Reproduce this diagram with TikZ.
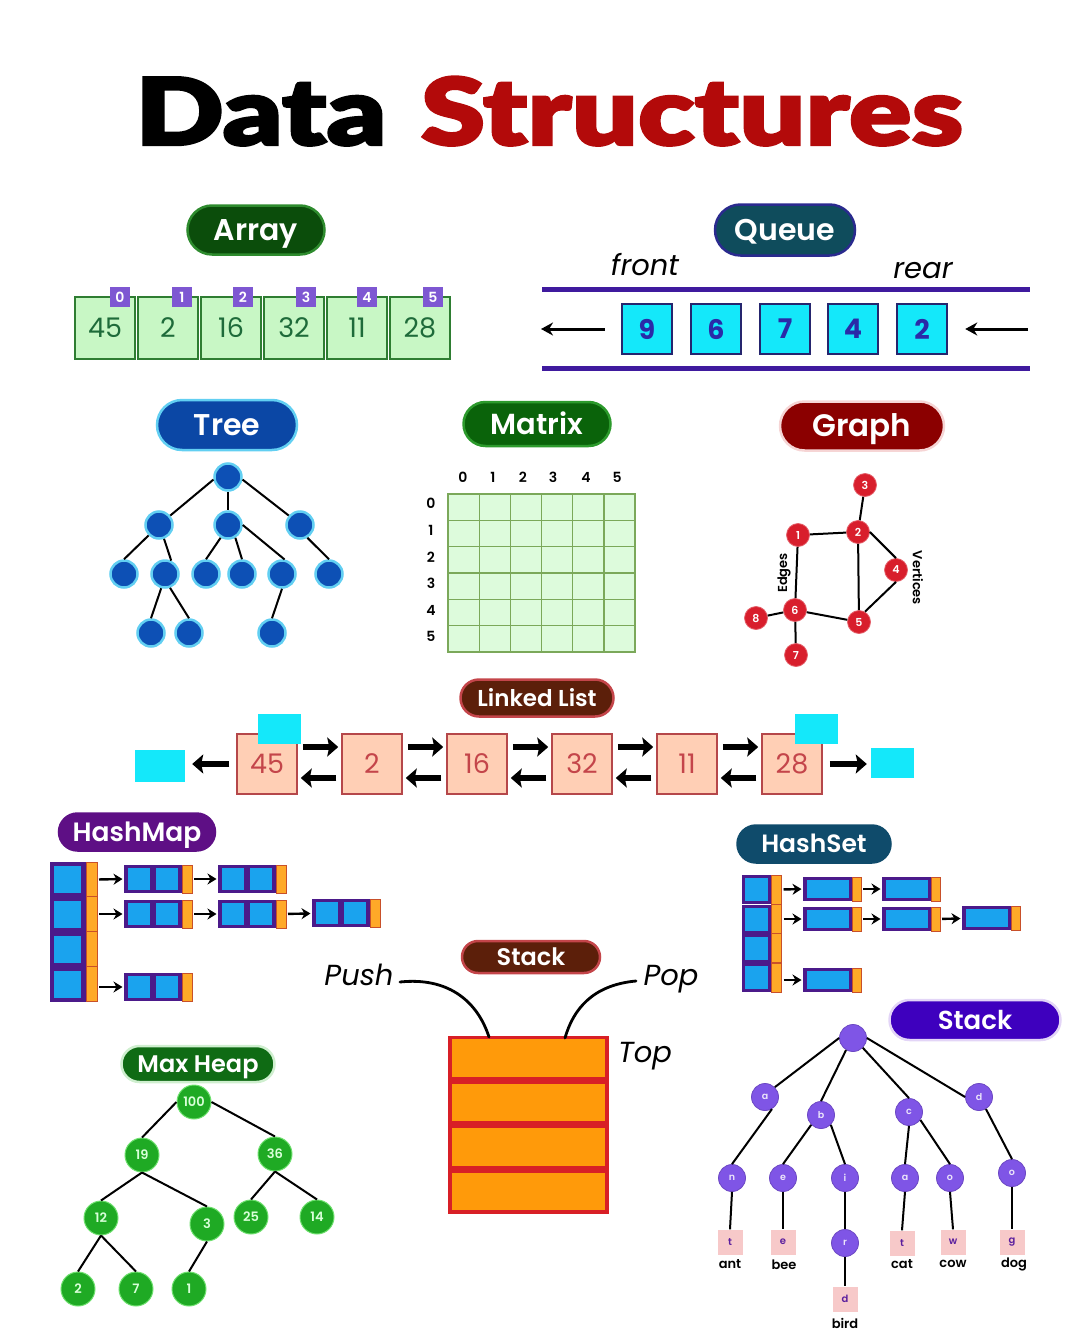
\documentclass[tikz,border=0pt]{standalone}
\usepackage{fontspec}
\setmainfont{Poppins}
\newfontfamily\semifont{Poppins SemiBold}
\newfontfamily\titlefont[FakeStretch=1.25,FakeBold=2.5]{Lato Black}
\usetikzlibrary{arrows.meta,shapes.misc}
\newcommand{\fsize}[1]{\fontsize{#1pt}{#1pt}\selectfont}
\definecolor{titlered}{HTML}{B30A0A}
\definecolor{arrfill}{HTML}{C8F7C5}
\definecolor{arrline}{HTML}{2E7D32}
\definecolor{arrtext}{HTML}{1E6B3A}
\definecolor{idxfill}{HTML}{7E57D2}
\definecolor{quefill}{HTML}{14E8FA}
\definecolor{queline}{HTML}{25256E}
\definecolor{quetext}{HTML}{2A2AA8}
\definecolor{querail}{HTML}{3F1A9E}
\definecolor{treefill}{HTML}{0D50B5}
\definecolor{treeline}{HTML}{62CFF2}
\definecolor{matfill}{HTML}{DDFBDC}
\definecolor{matline}{HTML}{7BA85A}
\definecolor{grafill}{HTML}{D81E2C}
\definecolor{llfill}{HTML}{FFCFB5}
\definecolor{llline}{HTML}{B5474A}
\definecolor{lltext}{HTML}{C4454A}
\definecolor{hashbody}{HTML}{4B1A8A}
\definecolor{hashblue}{HTML}{1AA3EE}
\definecolor{hashtail}{HTML}{FFA928}
\definecolor{hashedge}{HTML}{C8502A}
\definecolor{stackfill}{HTML}{FF9A0A}
\definecolor{stackline}{HTML}{D81F26}
\definecolor{heapfill}{HTML}{1FAA24}
\definecolor{heapline}{HTML}{6FE06F}
\definecolor{triefill}{HTML}{7F55E6}
\definecolor{leaffill}{HTML}{F7C9C9}
\definecolor{leaftext}{HTML}{5A1E9E}
\definecolor{pillarray}{HTML}{0B4D0B}
\definecolor{pillarrayline}{HTML}{2E8B2E}
\definecolor{pillqueue}{HTML}{0F4C5C}
\definecolor{pillqueueline}{HTML}{2A2A8E}
\definecolor{pilltree}{HTML}{0B47A5}
\definecolor{pillmatrix}{HTML}{0A630A}
\definecolor{pillmatrixline}{HTML}{2C9A2C}
\definecolor{pillgraph}{HTML}{8B0000}
\definecolor{pillgraphline}{HTML}{F6D5D5}
\definecolor{pillbrown}{HTML}{5C1F0A}
\definecolor{pillmap}{HTML}{5E0F85}
\definecolor{pillset}{HTML}{0F4B6B}
\definecolor{pillheap}{HTML}{0F6B14}
\definecolor{pillheapline}{HTML}{CFEFCF}
\definecolor{pilltrie}{HTML}{3E00BE}
\definecolor{pilltrieline}{HTML}{E3D5F7}
\tikzset{
  pill/.style={rounded rectangle, draw, line width=2.5pt, text=white, inner sep=0pt},
  pillsize/.style={font=\semifont\fsize{#1}, text height=0.7*#1 pt, text depth=0pt},
  arrcell/.style={draw=arrline, fill=arrfill, line width=1.6pt, minimum width=60pt, minimum height=62pt, text=arrtext, font=\fsize{27}, inner sep=0pt},
  idxbox/.style={fill=idxfill, minimum size=20pt, text=white, font=\semifont\fsize{14}, inner sep=0pt},
  quebox/.style={draw=queline, fill=quefill, line width=2.5pt, minimum size=50pt, text=quetext, font=\bfseries\fsize{27}, inner sep=0pt},
  quearrow/.style={->, >={Stealth[length=12pt,width=13pt]}, line width=3pt},
  slanted/.style={font=\itshape\fsize{29}, inner sep=0pt, anchor=base},
  treenode/.style={circle, draw=treeline, fill=treefill, line width=2.5pt, minimum size=27pt, inner sep=0pt},
  edgeline/.style={line width=2pt},
  matcell/.style={draw=matline, fill=matfill, line width=1.3pt, minimum width=31.17pt, minimum height=26.33pt, inner sep=0pt},
  matlabel/.style={font=\semifont\fsize{14}, inner sep=0pt},
  granode/.style={circle, draw=grafill!70, fill=grafill, line width=0.8pt, minimum size=23pt, text=white, font=\semifont\fsize{11}, inner sep=0pt},
  gralabel/.style={font=\semifont\fsize{13}, inner sep=0pt},
  llbox/.style={draw=llline, fill=llfill, line width=1.5pt, minimum size=60pt, text=lltext, font=\fsize{27}, inner sep=0pt},
  cyanbox/.style={fill=quefill, inner sep=0pt},
  llarrow/.style={->, >={Stealth[length=11pt,width=19pt,inset=2pt]}, line width=5.5pt},
  bodybox/.style={fill=hashbody, inner sep=0pt, outer sep=0pt},
  bluebox/.style={fill=hashblue, inner sep=0pt, outer sep=0pt},
  tailbox/.style={draw=hashedge, fill=hashtail, line width=1pt, inner sep=0pt, outer sep=0pt},
  hasharrow/.style={->, >={Stealth[length=9pt,width=11pt]}, line width=2.4pt, shorten <=2pt, shorten >=1.5pt},
  stackbox/.style={draw=stackline, fill=stackfill, line width=3.2pt, minimum width=157pt, minimum height=41pt, inner sep=0pt},
  heapnode/.style={circle, draw=heapline, fill=heapfill, line width=1pt, minimum size=34pt, text=white!85!green, font=\semifont\fsize{13}, inner sep=0pt},
  trienode/.style={circle, draw=triefill!85!black, fill=triefill, line width=0.8pt, minimum size=27pt, text=white!85!triefill, font=\semifont\fsize{9.5}, inner sep=0pt},
  leafbox/.style={fill=leaffill, minimum size=25pt, text=leaftext, font=\semifont\fsize{10}, inner sep=0pt},
  wordlabel/.style={font=\semifont\fsize{13}, inner sep=0pt},
}
% one chain entry of the hash map: two squares and a tail
\newcommand{\mapentry}[3]{
  \node[bodybox, anchor=west, minimum width=58pt, minimum height=28pt] (#1) at (#2,#3) {};
  \node[bluebox, minimum size=22pt] (#1a) at ([xshift=15pt]#1.west) {};
  \node[bluebox, minimum size=22pt] (#1b) at ([xshift=43pt]#1.west) {};
  \node[tailbox, anchor=west, minimum width=10pt, minimum height=28pt] (#1t) at (#1.east) {};
}
% one chain entry of the hash set: one long box and a tail
\newcommand{\setentry}[3]{
  \node[bodybox, anchor=west, minimum width=49pt, minimum height=24pt] (#1) at (#2,#3) {};
  \node[bluebox, minimum width=42pt, minimum height=18pt] (#1a) at (#1) {};
  \node[tailbox, anchor=west, minimum width=9pt, minimum height=24pt] (#1t) at (#1.east) {};
}
\begin{document}
\begin{tikzpicture}[x=1pt,y=-1pt]
  \useasboundingbox (0,0) rectangle (1080,1338);

  % Title
  \node[anchor=base, inner sep=0pt, font=\titlefont\fsize{93}] (titleleft) at (261,145) {Data};
  \node[anchor=base, inner sep=0pt, font=\titlefont\fsize{93}, text=titlered] (titleright) at (692,145) {Structures};

  % Array
  \node[pill, pillsize=30, fill=pillarray, draw=pillarrayline, minimum width=137pt, minimum height=49pt] (arraypill) at (256,230) {Array};
  \foreach \x/\v [count=\i] in {105/45, 168/2, 231/16, 294/32, 357/11, 420/28} {
    \node[arrcell] (arr\i) at (\x,328) {\v};
  }
  \foreach \n [count=\i from 0] in {120, 182, 243, 306, 367, 433} {
    \node[idxbox] (idx\i) at (\n,297) {\i};
  }

  % Queue
  \node[pill, pillsize=30, fill=pillqueue, draw=pillqueueline, minimum width=140pt, minimum height=51pt] (queuepill) at (785,230) {Queue};
  \node[slanted] (front) at (645,275) {front};
  \node[slanted] (rear) at (923,278) {rear};
  \coordinate (railaw) at (542,289);
  \coordinate (railae) at (1030,289);
  \coordinate (railbw) at (542,368);
  \coordinate (railbe) at (1030,368);
  \draw[querail, line width=5pt] (railaw) -- (railae);
  \draw[querail, line width=5pt] (railbw) -- (railbe);
  \foreach \x/\v [count=\i] in {647/9, 716/6, 785/7, 853/4, 922/2} {
    \node[quebox] (que\i) at (\x,329) {\v};
  }
  \coordinate (queout) at (541,329);
  \coordinate (quein) at (1028,329);
  \draw[quearrow, shorten <=16pt] (que1) -- (queout);
  \draw[quearrow, shorten >=17pt] (quein) -- (que5);

  % Tree
  \node[pill, pillsize=30, fill=pilltree, draw=treeline, minimum width=140pt, minimum height=50pt] (treepill) at (227,425) {Tree};
  \foreach \n/\x/\y in {r/228/477, a/159/525, b/228/525, c/300/525, d/124/574, e/165/574, f/206/574, g/242/574, h/282/574, k/329/574, l/151/633, m/189/633, o/272/633} {
    \node[treenode] (tr\n) at (\x,\y) {};
  }
  \foreach \a/\p/\b/\q in {r/190/a/40, r/-90/b/90, r/-10/c/140, a/225/d/90, a/-70/e/65, b/240/f/90, b/-60/g/90, b/0/h/80, c/-60/k/90, e/-105/l/90, e/-70/m/90, h/-90/o/90} {
    \draw[edgeline] (tr\a.\p) -- (tr\b.\q);
  }

  % Matrix
  \node[pill, pillsize=29, fill=pillmatrix, draw=pillmatrixline, minimum width=147pt, minimum height=44pt] (matrixpill) at (537,424) {Matrix};
  \foreach \i in {0,...,5} {
    \foreach \j in {0,...,5} {
      \node[matcell] (mat\i\j) at ({448+31.17*(\i+0.5)},{494+26.33*(\j+0.5)}) {};
    }
  }
  \foreach \x [count=\i from 0] in {463,493,523,553,586,617} {
    \node[matlabel] (matc\i) at (\x,477) {\i};
  }
  \foreach \y [count=\i from 0] in {503,530,557,583,610,636} {
    \node[matlabel] (matr\i) at (431,\y) {\i};
  }

  % Graph
  \node[pill, pillsize=31, fill=pillgraph, draw=pillgraphline, minimum width=164pt, minimum height=49pt] (graphpill) at (862,426) {Graph};
  \foreach \x/\y [count=\i] in {798/535, 858/532, 865/485, 896/570, 859/622, 795/610, 796/655, 756/618} {
    \node[granode] (gr\i) at (\x,\y) {\i};
  }
  \draw[edgeline] (gr3) -- (gr2);
  \draw[edgeline] (gr1) -- (gr2);
  \draw[edgeline] (gr2.east) -- (gr4.north);
  \draw[edgeline] (gr2) -- (gr5);
  \draw[edgeline] (gr4.south) -- (gr5.60);
  \draw[edgeline] (gr1) -- (gr6);
  \draw[edgeline] (gr6) -- (gr5);
  \draw[edgeline] (gr6) -- (gr8);
  \draw[edgeline] (gr6) -- (gr7);
  \node[gralabel, rotate=90] (edges) at (784,573) {Edges};
  \node[gralabel, rotate=-90] (vertices) at (918,578) {Vertices};

  % Linked list
  \node[pill, pillsize=23, fill=pillbrown, draw=lltext, minimum width=153pt, minimum height=37pt] (listpill) at (537,698) {Linked List};
  \foreach \x/\v [count=\i] in {267/45, 372/2, 477/16, 582/32, 687/11, 792/28} {
    \node[llbox] (ll\i) at (\x,764) {\v};
  }
  \node[cyanbox, minimum width=43pt, minimum height=30pt] (lltopa) at (279.5,729) {};
  \node[cyanbox, minimum width=43pt, minimum height=30pt] (lltopb) at (816.5,729) {};
  \node[cyanbox, minimum width=50pt, minimum height=32pt] (llleft) at (160,766) {};
  \node[cyanbox, minimum width=43pt, minimum height=30pt] (llright) at (892.5,763) {};
  \foreach \a/\b in {1/2, 2/3, 3/4, 4/5, 5/6} {
    \draw[llarrow, shorten <=5pt, shorten >=3pt] ([yshift=17pt]ll\a.east) -- ([yshift=17pt]ll\b.west);
    \draw[llarrow, shorten <=5pt, shorten >=3pt] ([yshift=-14pt]ll\b.west) -- ([yshift=-14pt]ll\a.east);
  }
  \draw[llarrow, shorten <=7pt, shorten >=7pt] (ll1.west) -- (ll1.west -| llleft.east);
  \draw[llarrow, shorten <=7pt, shorten >=4pt] (ll6.east) -- (ll6.east -| llright.west);

  % HashMap
  \node[pill, pillsize=26.5, fill=pillmap, draw=pillmap, minimum width=156pt, minimum height=37pt] (mappill) at (137,832) {HashMap};
  \foreach \y [count=\i] in {879.5, 914, 949, 984} {
    \node[bodybox, minimum width=36pt, minimum height=35pt] (mapb\i) at (68,\y) {};
    \node[bluebox, minimum size=27pt] (mapc\i) at (67.5,\y) {};
    \node[tailbox, anchor=west, minimum width=11pt, minimum height=34.5pt] (mapt\i) at (mapb\i.east) {};
  }
  \mapentry{mapa}{124}{879}
  \mapentry{mapd}{218}{879}
  \mapentry{mape}{124}{914}
  \mapentry{mapf}{218}{914}
  \mapentry{mapg}{312}{913}
  \mapentry{maph}{124}{987}
  \draw[hasharrow] (mapt1.east) -- (mapa.west);
  \draw[hasharrow] (mapat) -- (mapd);
  \draw[hasharrow] (mapt2.east) -- (mape.west);
  \draw[hasharrow] (mapet) -- (mapf);
  \draw[hasharrow] (mapft) -- (mapg);
  \draw[hasharrow] (mapt4.east |- maph) -- (maph.west);

  % HashSet
  \node[pill, pillsize=25, fill=pillset, draw=pillset, minimum width=153pt, minimum height=37pt] (setpill) at (814,844) {HashSet};
  \foreach \y [count=\i] in {889.5, 919, 948, 977.5} {
    \node[bodybox, minimum width=30pt, minimum height=29pt] (setb\i) at (756.5,\y) {};
    \node[bluebox, minimum width=23pt, minimum height=23pt] (setc\i) at (756,\y) {};
    \node[tailbox, anchor=west, minimum width=10pt, minimum height=29pt] (sett\i) at (setb\i.east) {};
  }
  \setentry{seta}{803}{889}
  \setentry{setd}{882}{889}
  \setentry{sete}{803}{919}
  \setentry{setf}{882}{919}
  \setentry{setg}{962}{918}
  \setentry{seth}{803}{980}
  \draw[hasharrow] (sett1.east) -- (seta.west);
  \draw[hasharrow] (setat) -- (setd);
  \draw[hasharrow] (sett2.east) -- (sete.west);
  \draw[hasharrow] (setet) -- (setf);
  \draw[hasharrow] (setft) -- (setg);
  \draw[hasharrow] (sett4.east |- seth) -- (seth.west);

  % Stack
  \node[pill, pillsize=24, fill=pillbrown, draw=lltext, minimum width=138pt, minimum height=32pt] (stackpill) at (531,957) {Stack};
  \foreach \y [count=\i] in {1058, 1102.5, 1147, 1191.5} {
    \node[stackbox] (st\i) at (528.5,\y) {};
  }
  \node[slanted] (push) at (359,985) {Push};
  \node[slanted] (pop) at (671,985) {Pop};
  \node[slanted] (top) at (645,1062) {Top};
  \coordinate (pushstart) at (400,982);
  \coordinate (pushend) at (489,1037);
  \coordinate (popstart) at (636,981);
  \coordinate (popend) at (565,1038);
  \draw[line width=2.8pt, line cap=round] (pushstart) .. controls (447,977) and (477,1000) .. (pushend);
  \draw[line width=2.8pt, line cap=round] (popstart) .. controls (592,985) and (573,1010) .. (popend);

  % Max heap
  \node[pill, pillsize=24, fill=pillheap, draw=pillheapline, minimum width=153pt, minimum height=36pt] (heappill) at (198,1064) {Max Heap};
  \foreach \n/\x/\y/\v in {a/194/1102/100, b/142/1155/19, c/275/1154/36, d/101/1218/12, e/207/1224/3, f/251/1217/25, g/317/1217/14, h/78/1289/2, k/136/1289/7, l/189/1289/1} {
    \node[heapnode] (hp\n) at (\x,\y) {\v};
  }
  \draw[edgeline] (hpa.west) -- (hpb.north);
  \draw[edgeline] (hpa.east) -- (hpc.north);
  \foreach \a/\b in {b/d, b/e, c/f, c/g, d/h, d/k, e/l} {
    \draw[edgeline] (hp\a.south) -- (hp\b.north);
  }

  % Second stack, drawn as a trie
  \node[pill, pillsize=26, fill=pilltrie, draw=pilltrieline, minimum width=171pt, minimum height=40pt] (triepill) at (975,1020) {Stack};
  \node[trienode] (troot) at (853,1038) {};
  \foreach \n/\x/\y/\v in {a/765/1097/a, b/821/1115/b, c/909/1112/c, d/979/1097/d, e/732/1178/n, f/783/1178/e, g/845/1178/i, h/905/1178/a, k/950/1178/o, l/1012/1173/o, m/845/1243/r} {
    \node[trienode] (tri\n) at (\x,\y) {\v};
  }
  \foreach \n/\x/\y/\v in {a/730/1242/t, b/783/1242/e, c/902/1243/t, d/953/1242/w, e/1012/1242/g, f/845/1299/d} {
    \node[leafbox] (leaf\n) at (\x,\y) {\v};
  }
  \draw[edgeline] (troot.west) -- (tria.45);
  \draw[edgeline] (troot.240) -- (trib.north);
  \draw[edgeline] (troot.-45) -- (tric.north);
  \draw[edgeline] (troot.east) -- (trid.west);
  \foreach \a/\p/\b in {a/-60/e, b/225/f, b/-45/g, c/-90/h, c/-35/k, d/-60/l, g/-90/m} {
    \draw[edgeline] (tri\a.\p) -- (tri\b.north);
  }
  \foreach \a/\b in {e/a, f/b, h/c, k/d, l/e, m/f} {
    \draw[edgeline] (tri\a.south) -- (leaf\b.north);
  }
  \node[wordlabel] (wordant) at (730,1264) {ant};
  \node[wordlabel] (wordbee) at (784,1265) {bee};
  \node[wordlabel] (wordcat) at (902,1264) {cat};
  \node[wordlabel] (wordcow) at (953,1264) {cow};
  \node[wordlabel] (worddog) at (1014,1264) {dog};
  \node[wordlabel] (wordbird) at (845,1323) {bird};
\end{tikzpicture}
\end{document}
